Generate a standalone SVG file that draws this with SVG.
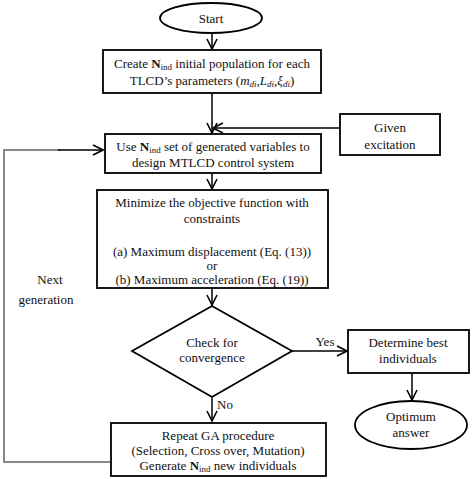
<svg xmlns="http://www.w3.org/2000/svg" width="474" height="479" viewBox="0 0 474 479">
<defs>
<marker id="ah" viewBox="0 0 12 12" refX="11" refY="6" markerWidth="12" markerHeight="12" markerUnits="userSpaceOnUse" orient="auto">
<path d="M1,1 L11,6 L1,11" fill="none" stroke="#000" stroke-width="1.6"/>
</marker>
</defs>
<style>
.s{fill:#fff;stroke:#000;stroke-width:1.8}
.t{font-family:'Liberation Serif','DejaVu Serif',serif;font-size:13px;fill:#111;text-anchor:middle}
.c{fill:none;stroke:#000;stroke-width:1.5}
.g{fill:none;stroke:#888;stroke-width:2}
.sub{font-size:9px}
</style>
<rect width="474" height="479" fill="#fff"/>
<g id="connectors">
<line class="c" x1="212" y1="32" x2="212" y2="49" marker-end="url(#ah)"/>
<line class="c" x1="212" y1="93" x2="212" y2="133" marker-end="url(#ah)"/>
<line class="c" x1="340" y1="128" x2="213" y2="128" marker-end="url(#ah)"/>
<line class="c" x1="212" y1="173" x2="212" y2="189" marker-end="url(#ah)"/>
<line class="c" x1="212" y1="288" x2="212" y2="305" marker-end="url(#ah)"/>
<line class="c" x1="292" y1="351" x2="347" y2="351" marker-end="url(#ah)"/>
<line class="c" x1="412" y1="373" x2="412" y2="400" marker-end="url(#ah)"/>
<line class="c" x1="212" y1="398" x2="212" y2="421" marker-end="url(#ah)"/>
<polyline class="g" points="110,462 4,462 4,150 60,150"/>
<line class="c" x1="58" y1="150" x2="103" y2="150" marker-end="url(#ah)"/>
<text class="t" x="325" y="346">Yes</text>
<text class="t" x="225" y="409">No</text>
<text class="t" x="50" y="284">Next</text>
<text class="t" x="46" y="304">generation</text>
</g>
<g id="start">
<ellipse class="s" cx="211" cy="18" rx="51" ry="15"/>
<text class="t" x="211" y="23">Start</text>
</g>
<g id="create">
<rect class="s" x="103" y="50" width="218" height="43"/>
<text class="t" x="212" y="68">Create <tspan font-weight="bold">N</tspan><tspan class="sub" dy="2">ind</tspan><tspan dy="-2"> initial population for each</tspan></text>
<text class="t" x="212" y="85">TLCD’s parameters (<tspan font-style="italic">m</tspan><tspan class="sub" font-style="italic" dy="2">di</tspan><tspan dy="-2">,</tspan><tspan font-style="italic">L</tspan><tspan class="sub" font-style="italic" dy="2">di</tspan><tspan dy="-2">,</tspan><tspan font-style="italic">ξ</tspan><tspan class="sub" font-style="italic" dy="2">di</tspan><tspan dy="-2">)</tspan></text>
</g>
<g id="given">
<rect class="s" x="340" y="114" width="100" height="41"/>
<text class="t" x="390" y="132">Given</text>
<text class="t" x="390" y="149">excitation</text>
</g>
<g id="use">
<rect class="s" x="105" y="134" width="216" height="39"/>
<text class="t" x="213" y="151">Use <tspan font-weight="bold">N</tspan><tspan class="sub" dy="2">ind</tspan><tspan dy="-2"> set of generated variables to</tspan></text>
<text class="t" x="213" y="167">design MTLCD control system</text>
</g>
<g id="minimize">
<rect class="s" x="97" y="190" width="231" height="98"/>
<text class="t" x="212" y="207">Minimize the objective function with</text>
<text class="t" x="212" y="223">constraints</text>
<text class="t" x="212" y="256">(a) Maximum displacement (Eq. (13))</text>
<text class="t" x="212" y="270">or</text>
<text class="t" x="212" y="284">(b) Maximum acceleration (Eq. (19))</text>
</g>
<g id="check">
<polygon class="s" points="212,306 292,351 212,397 132,351"/>
<text class="t" x="212" y="347">Check for</text>
<text class="t" x="212" y="362">convergence</text>
</g>
<g id="determine">
<rect class="s" x="348" y="330" width="121" height="43"/>
<text class="t" x="408" y="347">Determine best</text>
<text class="t" x="408" y="363">individuals</text>
</g>
<g id="optimum">
<ellipse class="s" cx="411" cy="425" rx="56" ry="24"/>
<text class="t" x="411" y="421">Optimum</text>
<text class="t" x="411" y="437">answer</text>
</g>
<g id="repeat">
<rect class="s" x="111" y="423" width="215" height="53"/>
<text class="t" x="218" y="440">Repeat GA procedure</text>
<text class="t" x="218" y="455">(Selection, Cross over, Mutation)</text>
<text class="t" x="218" y="470">Generate <tspan font-weight="bold">N</tspan><tspan class="sub" dy="2">ind</tspan><tspan dy="-2"> new individuals</tspan></text>
</g>
</svg>
